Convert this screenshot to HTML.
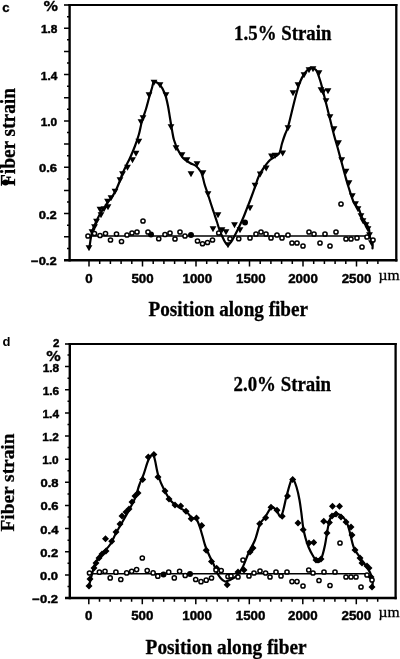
<!DOCTYPE html>
<html><head><meta charset="utf-8"><style>
html,body{margin:0;padding:0;background:#fff;width:400px;height:659px;overflow:hidden;}
svg{display:block;}
.tk{font-family:"Liberation Sans",Arial,sans-serif;font-weight:bold;font-size:12px;fill:#000;stroke:#000;stroke-width:0.4px;}
.ty{font-family:"Liberation Sans",Arial,sans-serif;font-weight:bold;font-size:11.5px;fill:#000;stroke:#000;stroke-width:0.45px;}
.pc{font-family:"DejaVu Sans","Liberation Sans",sans-serif;font-weight:bold;font-size:14.5px;fill:#000;stroke:#000;stroke-width:0.3px;}
.pl{font-family:"Liberation Sans",Arial,sans-serif;font-weight:bold;font-size:13.2px;fill:#000;stroke:#000;stroke-width:0.3px;}
.pd{font-family:"Liberation Sans",Arial,sans-serif;font-weight:bold;font-size:13px;fill:#000;}
.ti{font-family:"Liberation Serif","Times New Roman",serif;font-weight:bold;font-size:20px;fill:#000;stroke:#000;stroke-width:0.3px;}
.um{font-family:"Liberation Serif","Times New Roman",serif;font-size:15.6px;fill:#000;stroke:#000;stroke-width:0.3px;}
</style></head><body>
<svg width="400" height="659" viewBox="0 0 400 659">
<text x="2.3" y="12.1" class="pl">c</text>
<text x="2.6" y="345.6" class="pd">d</text>
<path d="M68.39999999999999,5 H397.40000000000003" stroke="#000" stroke-width="2.1" fill="none"/>
<path d="M64,5 H69.6" stroke="#000" stroke-width="1.6" fill="none"/>
<path d="M69.6,4 V261.4" stroke="#000" stroke-width="2.4" fill="none"/>
<path d="M396.3,4 V261.4" stroke="#000" stroke-width="2.3" fill="none"/>
<path d="M64,260.2 H397.40000000000003" stroke="#000" stroke-width="2.5" fill="none"/>
<path d="M67,248.4H69.6M64,236.8H69.6M67,225.2H69.6M64,213.6H69.6M67,202.0H69.6M64,190.4H69.6M67,178.9H69.6M64,167.3H69.6M67,155.7H69.6M64,144.1H69.6M67,132.5H69.6M64,120.9H69.6M67,109.3H69.6M64,97.8H69.6M67,86.2H69.6M64,74.6H69.6M67,63.0H69.6M64,51.4H69.6M67,39.8H69.6M64,28.3H69.6M67,16.7H69.6" stroke="#000" stroke-width="1.5" fill="none"/>
<path d="M89.0,260.2v6.2M99.7,260.2v3.8M110.4,260.2v3.8M121.1,260.2v3.8M131.8,260.2v3.8M142.5,260.2v6.2M153.2,260.2v3.8M163.9,260.2v3.8M174.6,260.2v3.8M185.3,260.2v3.8M196.0,260.2v6.2M206.7,260.2v3.8M217.4,260.2v3.8M228.1,260.2v3.8M238.8,260.2v3.8M249.5,260.2v6.2M260.2,260.2v3.8M270.9,260.2v3.8M281.6,260.2v3.8M292.3,260.2v3.8M303.0,260.2v6.2M313.7,260.2v3.8M324.4,260.2v3.8M335.1,260.2v3.8M345.8,260.2v3.8M356.5,260.2v6.2M367.2,260.2v3.8M377.9,260.2v3.8" stroke="#000" stroke-width="1.5" fill="none"/>
<text transform="translate(89.0,282.6) scale(1.11,1)" text-anchor="middle" class="tk">0</text>
<text transform="translate(142.5,282.6) scale(1.11,1)" text-anchor="middle" class="tk">500</text>
<text transform="translate(197.3,282.6) scale(1.11,1)" text-anchor="middle" class="tk">1000</text>
<text transform="translate(250.8,282.6) scale(1.11,1)" text-anchor="middle" class="tk">1500</text>
<text transform="translate(303.0,282.6) scale(1.11,1)" text-anchor="middle" class="tk">2000</text>
<text transform="translate(356.5,282.6) scale(1.11,1)" text-anchor="middle" class="tk">2500</text>
<text x="378.4" y="279.6" class="um">µm</text>
<text transform="translate(57.4,33.2) scale(1.03,1)" text-anchor="end" class="ty">1.8</text>
<text transform="translate(57.3,79.5) scale(1.03,1)" text-anchor="end" class="ty">1.4</text>
<text transform="translate(57.1,125.8) scale(1.03,1)" text-anchor="end" class="ty">1.0</text>
<text transform="translate(57.0,172.2) scale(1.13,1)" text-anchor="end" class="ty">0.6</text>
<text transform="translate(56.8,218.5) scale(1.13,1)" text-anchor="end" class="ty">0.2</text>
<text transform="translate(56.7,264.8) scale(1.13,1)" text-anchor="end" class="ty">−0.2</text>
<text x="43.4" y="11.1" class="pc">%</text>
<line x1="88" y1="236" x2="368" y2="236" stroke="#000" stroke-width="1.6"/>
<path d="M89.5,247.0 C89.8,245.3 90.4,240.0 91.0,237.0 C91.6,234.0 92.2,231.5 93.0,229.0 C93.8,226.5 94.8,224.5 96.0,222.0 C97.2,219.5 98.7,216.3 100.0,214.0 C101.3,211.7 102.7,210.0 104.0,208.0 C105.3,206.0 106.7,203.8 108.0,202.0 C109.3,200.2 110.7,199.0 112.0,197.0 C113.3,195.0 114.8,192.3 116.0,190.0 C117.2,187.7 117.9,185.8 119.0,183.0 C120.1,180.2 121.3,176.3 122.5,173.5 C123.7,170.7 124.8,168.6 126.0,166.0 C127.2,163.4 128.5,161.3 130.0,158.0 C131.5,154.7 133.5,150.0 135.0,146.0 C136.5,142.0 137.8,138.2 139.0,134.0 C140.2,129.8 140.8,125.2 142.0,121.0 C143.2,116.8 144.8,112.8 146.0,109.0 C147.2,105.2 148.0,101.5 149.0,98.0 C150.0,94.5 151.2,90.7 152.0,88.0 C152.8,85.3 152.7,82.5 154.0,82.0 C155.3,81.5 158.2,83.0 160.0,85.0 C161.8,87.0 163.7,90.5 165.0,94.0 C166.3,97.5 167.2,102.0 168.0,106.0 C168.8,110.0 169.3,114.0 170.0,118.0 C170.7,122.0 171.3,126.3 172.0,130.0 C172.7,133.7 173.0,136.7 174.0,140.0 C175.0,143.3 176.5,147.0 178.0,150.0 C179.5,153.0 181.0,155.8 183.0,158.0 C185.0,160.2 187.8,161.7 190.0,163.0 C192.2,164.3 194.2,164.5 196.0,166.0 C197.8,167.5 199.8,170.0 201.0,172.0 C202.2,174.0 202.4,176.0 203.0,178.0 C203.6,180.0 203.8,181.5 204.5,184.0 C205.2,186.5 206.4,189.7 207.5,193.0 C208.6,196.3 209.9,200.7 211.0,204.0 C212.1,207.3 213.0,210.0 214.0,213.0 C215.0,216.0 216.1,219.2 217.0,222.0 C217.9,224.8 218.6,227.5 219.5,230.0 C220.4,232.5 221.6,235.0 222.5,237.0 C223.4,239.0 224.2,240.7 225.0,242.0 C225.8,243.3 226.5,245.0 227.5,245.0 C228.5,245.0 229.8,243.7 231.0,242.0 C232.2,240.3 233.5,237.8 235.0,235.0 C236.5,232.2 238.5,228.2 240.0,225.0 C241.5,221.8 242.8,219.0 244.0,216.0 C245.2,213.0 246.3,210.0 247.5,207.0 C248.7,204.0 249.8,201.3 251.0,198.0 C252.2,194.7 253.7,190.6 255.0,187.0 C256.3,183.4 257.2,179.8 258.7,176.5 C260.2,173.2 262.1,170.2 264.0,167.5 C265.9,164.8 268.0,161.9 270.0,160.0 C272.0,158.1 274.4,157.4 276.0,156.2 C277.6,154.9 278.7,154.6 279.7,152.5 C280.7,150.4 281.1,146.5 282.0,143.5 C282.9,140.5 284.0,137.2 285.0,134.5 C286.0,131.8 286.8,130.9 288.0,127.0 C289.2,123.1 290.7,116.3 292.0,111.0 C293.3,105.7 294.7,99.8 296.0,95.0 C297.3,90.2 298.5,85.7 300.0,82.0 C301.5,78.3 303.3,75.3 305.0,73.0 C306.7,70.7 308.2,68.5 310.0,68.0 C311.8,67.5 314.3,68.0 316.0,70.0 C317.7,72.0 318.8,76.5 320.0,80.0 C321.2,83.5 322.0,87.2 323.0,91.0 C324.0,94.8 324.8,98.3 326.0,103.0 C327.2,107.7 328.7,113.7 330.0,119.0 C331.3,124.3 332.7,130.0 334.0,135.0 C335.3,140.0 336.8,144.5 338.0,149.0 C339.2,153.5 340.3,157.7 341.5,162.0 C342.7,166.3 343.8,170.8 345.0,175.0 C346.2,179.2 347.0,182.4 348.5,187.0 C350.0,191.6 352.0,198.8 353.8,202.5 C355.5,206.2 357.4,206.5 358.8,209.0 C360.1,211.5 360.8,215.0 362.0,217.5 C363.2,220.0 365.1,221.8 366.2,223.8 C367.4,225.7 368.4,226.7 369.0,229.0 C369.6,231.3 369.4,235.2 370.0,237.5 C370.6,239.8 372.1,240.7 372.5,242.5 C372.9,244.3 372.5,247.5 372.5,248.5" stroke="#000" stroke-width="2.2" fill="none" stroke-linejoin="round" stroke-linecap="round"/>
<path d="M85.6,245.3L92.4,245.3L89.0,251.3ZM88.6,229.3L95.4,229.3L92.0,235.3ZM91.1,224.3L97.9,224.3L94.5,230.3ZM93.1,218.8L99.9,218.8L96.5,224.8ZM97.6,212.3L104.4,212.3L101.0,218.3ZM96.6,206.8L103.4,206.8L100.0,212.8ZM100.6,206.3L107.4,206.3L104.0,212.3ZM104.6,204.3L111.4,204.3L108.0,210.3ZM104.1,198.8L110.9,198.8L107.5,204.8ZM107.6,195.3L114.4,195.3L111.0,201.3ZM111.6,188.8L118.4,188.8L115.0,194.8ZM116.6,177.3L123.4,177.3L120.0,183.3ZM119.1,171.3L125.9,171.3L122.5,177.3ZM124.1,164.8L130.9,164.8L127.5,170.8ZM129.1,157.3L135.9,157.3L132.5,163.3ZM132.6,150.8L139.4,150.8L136.0,156.8ZM135.3,138.8L142.2,138.8L138.8,144.8ZM137.6,119.3L144.4,119.3L141.0,125.3ZM139.6,115.3L146.4,115.3L143.0,121.3ZM145.6,92.3L152.4,92.3L149.0,98.3ZM150.6,79.7L157.4,79.7L154.0,85.7ZM156.6,82.3L163.4,82.3L160.0,88.3ZM162.6,92.3L169.4,92.3L166.0,98.3ZM167.6,124.3L174.4,124.3L171.0,130.3ZM172.6,145.3L179.4,145.3L176.0,151.3ZM178.6,152.3L185.4,152.3L182.0,158.3ZM183.6,157.3L190.4,157.3L187.0,163.3ZM187.6,171.3L194.4,171.3L191.0,177.3ZM193.6,161.3L200.4,161.3L197.0,167.3ZM199.6,170.3L206.4,170.3L203.0,176.3ZM204.6,191.3L211.4,191.3L208.0,197.3ZM209.6,226.3L216.4,226.3L213.0,232.3ZM214.6,212.3L221.4,212.3L218.0,218.3ZM218.6,227.3L225.4,227.3L222.0,233.3ZM222.6,229.3L229.4,229.3L226.0,235.3ZM224.6,242.3L231.4,242.3L228.0,248.3ZM231.1,222.3L237.9,222.3L234.5,228.3ZM236.6,227.3L243.4,227.3L240.0,233.3ZM246.6,205.3L253.4,205.3L250.0,211.3ZM251.6,182.8L258.4,182.8L255.0,188.8ZM256.8,171.5L263.6,171.5L260.2,177.5ZM262.8,165.5L269.6,165.5L266.2,171.5ZM268.1,153.5L274.9,153.5L271.5,159.5ZM271.8,152.8L278.6,152.8L275.2,158.8ZM279.3,150.5L286.1,150.5L282.7,156.5ZM284.6,125.3L291.4,125.3L288.0,131.3ZM289.6,90.3L296.4,90.3L293.0,96.3ZM294.6,82.3L301.4,82.3L298.0,88.3ZM300.6,72.3L307.4,72.3L304.0,78.3ZM305.6,67.3L312.4,67.3L309.0,73.3ZM309.6,66.3L316.4,66.3L313.0,72.3ZM315.6,70.3L322.4,70.3L319.0,76.3ZM317.6,87.3L324.4,87.3L321.0,93.3ZM319.6,89.3L326.4,89.3L323.0,95.3ZM324.6,88.3L331.4,88.3L328.0,94.3ZM322.6,98.3L329.4,98.3L326.0,104.3ZM326.6,114.3L333.4,114.3L330.0,120.3ZM330.6,126.3L337.4,126.3L334.0,132.3ZM335.1,140.3L341.9,140.3L338.5,146.3ZM338.3,157.3L345.1,157.3L341.7,163.3ZM342.6,168.8L349.4,168.8L346.0,174.8ZM345.6,180.3L352.4,180.3L349.0,186.3ZM348.9,193.3L355.7,193.3L352.3,199.3ZM352.1,201.3L358.9,201.3L355.5,207.3ZM354.6,206.3L361.4,206.3L358.0,212.3ZM357.6,213.3L364.4,213.3L361.0,219.3ZM359.6,218.3L366.4,218.3L363.0,224.3ZM362.6,222.3L369.4,222.3L366.0,228.3ZM364.6,226.3L371.4,226.3L368.0,232.3ZM366.1,232.3L372.9,232.3L369.5,238.3ZM368.1,240.3L374.9,240.3L371.5,246.3Z" fill="#000"/>
<circle cx="245" cy="222.5" r="3" fill="#000"/>
<circle cx="151" cy="234.5" r="3" fill="#000"/>
<circle cx="191" cy="235" r="3" fill="#000"/>
<g fill="#fff" stroke="#000" stroke-width="1.5"><circle cx="88" cy="236" r="2.1"/><circle cx="94.5" cy="233.5" r="2.1"/><circle cx="100" cy="235.5" r="2.1"/><circle cx="105.5" cy="233.5" r="2.1"/><circle cx="110.5" cy="240" r="2.1"/><circle cx="116.5" cy="234" r="2.1"/><circle cx="121.5" cy="241.5" r="2.1"/><circle cx="127" cy="235" r="2.1"/><circle cx="132" cy="233" r="2.1"/><circle cx="137" cy="232" r="2.1"/><circle cx="143" cy="221" r="2.1"/><circle cx="148" cy="232" r="2.1"/><circle cx="158.75" cy="238.75" r="2.1"/><circle cx="165" cy="234.5" r="2.1"/><circle cx="170" cy="233" r="2.1"/><circle cx="175" cy="239" r="2.1"/><circle cx="180" cy="232" r="2.1"/><circle cx="185" cy="236" r="2.1"/><circle cx="197.5" cy="241" r="2.1"/><circle cx="202.5" cy="243.75" r="2.1"/><circle cx="207.5" cy="242.5" r="2.1"/><circle cx="212.5" cy="240" r="2.1"/><circle cx="218.75" cy="233" r="2.1"/><circle cx="230" cy="238.75" r="2.1"/><circle cx="238.75" cy="238.75" r="2.1"/><circle cx="250" cy="238" r="2.1"/><circle cx="256" cy="234" r="2.1"/><circle cx="261" cy="232" r="2.1"/><circle cx="266" cy="234" r="2.1"/><circle cx="271" cy="238" r="2.1"/><circle cx="277" cy="235" r="2.1"/><circle cx="282" cy="238" r="2.1"/><circle cx="288" cy="235" r="2.1"/><circle cx="292" cy="243" r="2.1"/><circle cx="297" cy="243" r="2.1"/><circle cx="303" cy="246" r="2.1"/><circle cx="309" cy="232" r="2.1"/><circle cx="314" cy="234" r="2.1"/><circle cx="320" cy="243" r="2.1"/><circle cx="325" cy="234" r="2.1"/><circle cx="330" cy="246" r="2.1"/><circle cx="336" cy="232" r="2.1"/><circle cx="341" cy="204" r="2.1"/><circle cx="346" cy="239" r="2.1"/><circle cx="351" cy="239" r="2.1"/><circle cx="357" cy="238" r="2.1"/><circle cx="362" cy="247" r="2.1"/><circle cx="367" cy="237" r="2.1"/><circle cx="373" cy="240" r="2.1"/></g>
<text x="234.1" y="40" class="ti" textLength="97.3" lengthAdjust="spacingAndGlyphs">1.5% Strain</text>
<text x="148.5" y="315.7" class="ti" textLength="159.5" lengthAdjust="spacingAndGlyphs">Position along fiber</text>
<circle cx="5.5" cy="182.5" r="2.3" fill="none" stroke="#000" stroke-width="1.4"/>
<text transform="translate(15.2,186) rotate(-90)" class="ti" textLength="98" lengthAdjust="spacingAndGlyphs">Fiber strain</text>
<path d="M68.6,344 H396.70000000000005" stroke="#000" stroke-width="2.1" fill="none"/>
<path d="M65,344 H69.8" stroke="#000" stroke-width="1.6" fill="none"/>
<path d="M69.8,343 V599.2" stroke="#000" stroke-width="2.4" fill="none"/>
<path d="M395.6,343 V599.2" stroke="#000" stroke-width="2.3" fill="none"/>
<path d="M65,598 H396.70000000000005" stroke="#000" stroke-width="2.5" fill="none"/>
<path d="M67.5,586.5H69.8M65,574.9H69.8M67.5,563.3H69.8M65,551.8H69.8M67.5,540.2H69.8M65,528.6H69.8M67.5,517.0H69.8M65,505.5H69.8M67.5,493.9H69.8M65,482.3H69.8M67.5,470.8H69.8M65,459.2H69.8M67.5,447.6H69.8M65,436.1H69.8M67.5,424.5H69.8M65,412.9H69.8M67.5,401.3H69.8M65,389.8H69.8M67.5,378.2H69.8M65,366.6H69.8M67.5,355.1H69.8" stroke="#000" stroke-width="1.5" fill="none"/>
<path d="M88.8,598v6.2M99.5,598v3.8M110.2,598v3.8M120.9,598v3.8M131.6,598v3.8M142.3,598v6.2M153.0,598v3.8M163.7,598v3.8M174.4,598v3.8M185.1,598v3.8M195.8,598v6.2M206.5,598v3.8M217.2,598v3.8M227.9,598v3.8M238.6,598v3.8M249.3,598v6.2M260.0,598v3.8M270.7,598v3.8M281.4,598v3.8M292.1,598v3.8M302.8,598v6.2M313.5,598v3.8M324.2,598v3.8M334.9,598v3.8M345.6,598v3.8M356.3,598v6.2M367.0,598v3.8M377.7,598v3.8" stroke="#000" stroke-width="1.5" fill="none"/>
<text transform="translate(88.8,619.8) scale(1.11,1)" text-anchor="middle" class="tk">0</text>
<text transform="translate(142.3,619.8) scale(1.11,1)" text-anchor="middle" class="tk">500</text>
<text transform="translate(197.1,619.8) scale(1.11,1)" text-anchor="middle" class="tk">1000</text>
<text transform="translate(250.6,619.8) scale(1.11,1)" text-anchor="middle" class="tk">1500</text>
<text transform="translate(302.8,619.8) scale(1.11,1)" text-anchor="middle" class="tk">2000</text>
<text transform="translate(356.3,619.8) scale(1.11,1)" text-anchor="middle" class="tk">2500</text>
<text x="378.4" y="616.8" class="um">µm</text>
<text transform="translate(59.2,371.5) scale(1.03,1)" text-anchor="end" class="ty">1.8</text>
<text transform="translate(59.1,394.7) scale(1.03,1)" text-anchor="end" class="ty">1.6</text>
<text transform="translate(59.0,417.8) scale(1.03,1)" text-anchor="end" class="ty">1.4</text>
<text transform="translate(58.8,441.0) scale(1.03,1)" text-anchor="end" class="ty">1.2</text>
<text transform="translate(58.7,464.1) scale(1.03,1)" text-anchor="end" class="ty">1.0</text>
<text transform="translate(58.6,487.2) scale(1.13,1)" text-anchor="end" class="ty">0.8</text>
<text transform="translate(58.5,510.4) scale(1.13,1)" text-anchor="end" class="ty">0.6</text>
<text transform="translate(58.4,533.5) scale(1.13,1)" text-anchor="end" class="ty">0.4</text>
<text transform="translate(58.2,556.7) scale(1.13,1)" text-anchor="end" class="ty">0.2</text>
<text transform="translate(58.1,579.8) scale(1.13,1)" text-anchor="end" class="ty">0.0</text>
<text transform="translate(58.0,602.9) scale(1.13,1)" text-anchor="end" class="ty">−0.2</text>
<text transform="translate(59.3,347.2) scale(1.0,1)" text-anchor="end" class="ty">2</text>
<text x="46.2" y="360.9" class="pc">%</text>
<line x1="88" y1="573.8" x2="368" y2="573.8" stroke="#000" stroke-width="1.6"/>
<path d="M89.0,586.0 C89.5,584.2 90.7,578.8 91.8,575.0 C92.8,571.2 94.0,566.3 95.5,563.0 C97.0,559.7 98.8,557.2 100.5,555.0 C102.2,552.8 103.8,551.8 105.5,550.0 C107.2,548.2 108.8,546.7 110.5,544.0 C112.2,541.3 114.1,536.7 115.5,534.0 C116.9,531.3 116.9,531.5 119.0,527.8 C121.1,524.1 125.4,516.9 128.0,512.0 C130.6,507.1 132.9,503.1 134.8,498.6 C136.7,494.1 137.8,489.1 139.3,485.0 C140.8,480.9 142.3,477.9 143.8,473.8 C145.3,469.7 146.8,463.5 148.3,460.3 C149.8,457.1 151.7,454.6 152.8,454.6 C153.9,454.6 154.1,456.7 155.0,460.3 C155.9,463.9 156.9,471.1 158.4,476.0 C159.9,480.9 161.9,485.4 164.0,489.5 C166.1,493.6 168.5,498.0 170.8,500.8 C173.1,503.6 175.0,504.5 177.6,506.4 C180.2,508.3 184.3,510.2 186.6,512.0 C188.9,513.8 189.5,516.0 191.2,517.2 C192.8,518.5 195.1,518.0 196.5,519.5 C197.9,521.0 198.5,523.5 199.5,526.2 C200.5,529.0 201.5,532.6 202.5,536.0 C203.5,539.4 204.2,543.0 205.5,546.5 C206.8,550.0 208.6,554.0 210.0,557.0 C211.4,560.0 212.6,562.0 213.7,564.5 C214.8,567.0 215.6,569.8 216.7,572.0 C217.8,574.2 219.1,576.4 220.5,578.0 C221.9,579.6 223.4,581.2 225.0,581.5 C226.6,581.8 228.1,580.9 230.0,580.0 C231.9,579.1 234.2,578.3 236.2,576.2 C238.3,574.2 240.4,571.5 242.5,567.5 C244.6,563.5 246.7,557.1 248.8,552.5 C250.8,547.9 253.1,544.8 255.0,540.0 C256.9,535.2 258.3,527.8 260.0,524.0 C261.7,520.2 263.1,520.2 265.0,517.5 C266.9,514.8 269.4,508.8 271.2,507.5 C273.1,506.2 274.6,508.5 276.2,510.0 C277.9,511.5 279.6,518.3 281.2,516.2 C282.9,514.2 284.8,502.9 286.2,497.5 C287.7,492.1 288.9,486.8 290.0,483.8 C291.1,480.7 291.6,478.5 292.7,479.0 C293.8,479.5 295.4,483.5 296.5,487.0 C297.6,490.5 298.7,495.5 299.5,500.0 C300.3,504.5 300.9,509.4 301.5,514.0 C302.1,518.6 302.5,523.5 303.2,527.5 C303.9,531.5 304.6,534.8 305.5,538.0 C306.4,541.2 307.3,544.2 308.5,547.0 C309.7,549.8 311.0,552.5 312.5,555.0 C314.0,557.5 316.0,561.4 317.5,562.0 C319.0,562.6 320.0,561.6 321.2,558.8 C322.5,555.9 324.0,549.8 325.0,545.0 C326.0,540.2 326.7,534.3 327.5,530.0 C328.3,525.7 328.8,521.7 330.0,519.0 C331.2,516.3 333.3,514.4 335.0,513.8 C336.7,513.1 338.1,513.8 340.0,515.0 C341.9,516.2 344.6,518.2 346.2,521.2 C347.9,524.2 348.8,528.6 350.0,533.0 C351.2,537.4 352.1,543.4 353.8,547.5 C355.4,551.6 357.9,554.4 360.0,557.5 C362.1,560.6 364.6,563.8 366.2,566.2 C367.9,568.8 369.0,570.2 370.0,572.5 C371.0,574.8 372.1,577.5 372.5,580.0 C372.9,582.5 372.5,586.2 372.5,587.5" stroke="#000" stroke-width="2.2" fill="none" stroke-linejoin="round" stroke-linecap="round"/>
<path d="M89.0,582.5L92.5,586.0L89.0,589.5L85.5,586.0ZM90.0,575.5L93.5,579.0L90.0,582.5L86.5,579.0ZM94.0,564.5L97.5,568.0L94.0,571.5L90.5,568.0ZM96.0,559.5L99.5,563.0L96.0,566.5L92.5,563.0ZM99.0,554.5L102.5,558.0L99.0,561.5L95.5,558.0ZM102.0,550.5L105.5,554.0L102.0,557.5L98.5,554.0ZM106.0,547.5L109.5,551.0L106.0,554.5L102.5,551.0ZM105.5,535.2L109.0,538.8L105.5,542.2L102.0,538.8ZM111.8,537.8L115.2,541.2L111.8,544.8L108.2,541.2ZM116.0,528.5L119.5,532.0L116.0,535.5L112.5,532.0ZM120.0,520.5L123.5,524.0L120.0,527.5L116.5,524.0ZM122.0,512.5L125.5,516.0L122.0,519.5L118.5,516.0ZM126.0,508.5L129.5,512.0L126.0,515.5L122.5,512.0ZM129.0,505.5L132.5,509.0L129.0,512.5L125.5,509.0ZM132.0,498.5L135.5,502.0L132.0,505.5L128.5,502.0ZM135.0,492.5L138.5,496.0L135.0,499.5L131.5,496.0ZM138.0,489.5L141.5,493.0L138.0,496.5L134.5,493.0ZM142.7,475.9L146.2,479.4L142.7,482.9L139.2,479.4ZM148.3,453.5L151.8,457.0L148.3,460.5L144.8,457.0ZM153.9,451.1L157.4,454.6L153.9,458.1L150.4,454.6ZM158.0,473.5L161.5,477.0L158.0,480.5L154.5,477.0ZM165.0,487.5L168.5,491.0L165.0,494.5L161.5,491.0ZM169.0,495.5L172.5,499.0L169.0,502.5L165.5,499.0ZM175.0,501.5L178.5,505.0L175.0,508.5L171.5,505.0ZM180.7,502.5L184.2,506.0L180.7,509.5L177.2,506.0ZM186.0,507.7L189.5,511.2L186.0,514.7L182.5,511.2ZM191.2,515.2L194.7,518.7L191.2,522.2L187.7,518.7ZM196.5,514.5L200.0,518.0L196.5,521.5L193.0,518.0ZM201.7,522.0L205.2,525.5L201.7,529.0L198.2,525.5ZM206.2,546.7L209.7,550.2L206.2,553.7L202.7,550.2ZM211.5,558.0L215.0,561.5L211.5,565.0L208.0,561.5ZM216.7,564.7L220.2,568.2L216.7,571.7L213.2,568.2ZM227.2,581.2L230.7,584.7L227.2,588.2L223.7,584.7ZM238.0,568.5L241.5,572.0L238.0,575.5L234.5,572.0ZM244.0,566.5L247.5,570.0L244.0,573.5L240.5,570.0ZM250.0,548.5L253.5,552.0L250.0,555.5L246.5,552.0ZM253.0,544.5L256.5,548.0L253.0,551.5L249.5,548.0ZM259.7,520.2L263.2,523.7L259.7,527.2L256.2,523.7ZM265.7,514.2L269.2,517.7L265.7,521.2L262.2,517.7ZM271.0,503.7L274.5,507.2L271.0,510.7L267.5,507.2ZM277.0,506.7L280.5,510.2L277.0,513.7L273.5,510.2ZM282.2,512.7L285.7,516.2L282.2,519.7L278.7,516.2ZM287.5,492.5L291.0,496.0L287.5,499.5L284.0,496.0ZM292.7,476.0L296.2,479.5L292.7,483.0L289.2,479.5ZM298.0,519.5L301.5,523.0L298.0,526.5L294.5,523.0ZM303.2,526.2L306.7,529.7L303.2,533.2L299.7,529.7ZM309.0,539.5L312.5,543.0L309.0,546.5L305.5,543.0ZM313.8,539.0L317.2,542.5L313.8,546.0L310.2,542.5ZM316.0,556.5L319.5,560.0L316.0,563.5L312.5,560.0ZM321.0,555.5L324.5,559.0L321.0,562.5L317.5,559.0ZM323.8,517.8L327.2,521.2L323.8,524.8L320.2,521.2ZM329.4,519.0L332.9,522.5L329.4,526.0L325.9,522.5ZM327.0,529.5L330.5,533.0L327.0,536.5L323.5,533.0ZM332.5,502.8L336.0,506.2L332.5,509.8L329.0,506.2ZM339.5,502.8L343.0,506.2L339.5,509.8L336.0,506.2ZM332.0,512.5L335.5,516.0L332.0,519.5L328.5,516.0ZM336.0,510.5L339.5,514.0L336.0,517.5L332.5,514.0ZM341.0,513.5L344.5,517.0L341.0,520.5L337.5,517.0ZM346.0,518.5L349.5,522.0L346.0,525.5L342.5,522.0ZM351.0,523.5L354.5,527.0L351.0,530.5L347.5,527.0ZM352.0,531.5L355.5,535.0L352.0,538.5L348.5,535.0ZM355.0,546.5L358.5,550.0L355.0,553.5L351.5,550.0ZM360.0,554.5L363.5,558.0L360.0,561.5L356.5,558.0ZM362.0,559.5L365.5,563.0L362.0,566.5L358.5,563.0ZM367.0,562.5L370.5,566.0L367.0,569.5L363.5,566.0ZM369.0,564.5L372.5,568.0L369.0,571.5L365.5,568.0ZM371.0,573.5L374.5,577.0L371.0,580.5L367.5,577.0ZM372.0,583.5L375.5,587.0L372.0,590.5L368.5,587.0Z" fill="#000"/>
<circle cx="163.5" cy="574.5" r="3" fill="#000"/>
<circle cx="190" cy="574" r="3" fill="#000"/>
<g fill="#fff" stroke="#000" stroke-width="1.5"><circle cx="89.5" cy="573" r="2.1"/><circle cx="99.4" cy="572.2" r="2.1"/><circle cx="105" cy="571.3" r="2.1"/><circle cx="110.2" cy="577.9" r="2.1"/><circle cx="115.9" cy="572.2" r="2.1"/><circle cx="120.8" cy="579.5" r="2.1"/><circle cx="126.7" cy="572.9" r="2.1"/><circle cx="131.7" cy="571.3" r="2.1"/><circle cx="136.6" cy="569.6" r="2.1"/><circle cx="142.3" cy="558" r="2.1"/><circle cx="147.2" cy="570.6" r="2.1"/><circle cx="153.1" cy="572.9" r="2.1"/><circle cx="157.8" cy="576.2" r="2.1"/><circle cx="168.7" cy="572.2" r="2.1"/><circle cx="174.3" cy="577.9" r="2.1"/><circle cx="179.6" cy="571.3" r="2.1"/><circle cx="185.2" cy="575.5" r="2.1"/><circle cx="195.7" cy="579.5" r="2.1"/><circle cx="201" cy="581.7" r="2.1"/><circle cx="206.2" cy="580.2" r="2.1"/><circle cx="211.5" cy="578" r="2.1"/><circle cx="216" cy="570" r="2.1"/><circle cx="221.2" cy="570.5" r="2.1"/><circle cx="228" cy="576.5" r="2.1"/><circle cx="231" cy="576" r="2.1"/><circle cx="238" cy="577" r="2.1"/><circle cx="243" cy="560" r="2.1"/><circle cx="249" cy="576" r="2.1"/><circle cx="254" cy="573" r="2.1"/><circle cx="260" cy="571" r="2.1"/><circle cx="265.6" cy="573" r="2.1"/><circle cx="270" cy="577" r="2.1"/><circle cx="276" cy="572" r="2.1"/><circle cx="281" cy="576" r="2.1"/><circle cx="287" cy="572" r="2.1"/><circle cx="292" cy="581.6" r="2.1"/><circle cx="297" cy="581.6" r="2.1"/><circle cx="303" cy="586" r="2.1"/><circle cx="308.75" cy="570" r="2.1"/><circle cx="313" cy="573" r="2.1"/><circle cx="319" cy="580.5" r="2.1"/><circle cx="324" cy="572" r="2.1"/><circle cx="330" cy="585.5" r="2.1"/><circle cx="335" cy="572" r="2.1"/><circle cx="340" cy="543" r="2.1"/><circle cx="346" cy="577" r="2.1"/><circle cx="351" cy="577" r="2.1"/><circle cx="356" cy="577" r="2.1"/><circle cx="361" cy="587" r="2.1"/><circle cx="367" cy="575" r="2.1"/><circle cx="372" cy="580" r="2.1"/></g>
<text x="233.5" y="390.6" class="ti" textLength="97.5" lengthAdjust="spacingAndGlyphs">2.0% Strain</text>
<text x="145.6" y="653.8" class="ti" textLength="161" lengthAdjust="spacingAndGlyphs">Position along fiber</text>
<text transform="translate(14.3,531.5) rotate(-90)" class="ti" style="font-size:19px" textLength="98" lengthAdjust="spacingAndGlyphs">Fiber strain</text>
</svg>
</body></html>
